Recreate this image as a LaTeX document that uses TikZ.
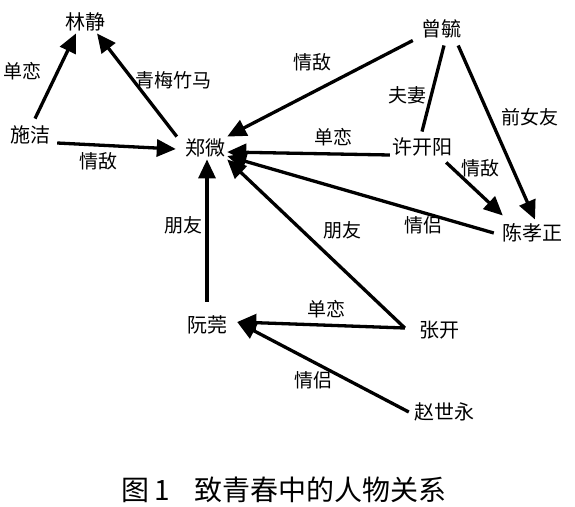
\documentclass[tikz,border=0pt]{standalone}
\usepackage{fontspec}
\usepackage{tikz}
\usetikzlibrary{arrows.meta}
\newfontfamily\cjk{Noto Sans CJK SC}
\tikzset{
  person/.style={inner sep=2pt, font=\cjk\fontsize{20}{20}\selectfont},
  rellabel/.style={inner sep=1pt, font=\cjk\fontsize{19}{19}\selectfont},
  rel/.style={line width=3.3pt, -{Triangle[length=19pt,width=17pt]}},
  tie/.style={line width=3.3pt}
}

\begin{document}
\begin{tikzpicture}[x=1pt,y=-1pt]
		\useasboundingbox (0,0) rectangle (575,506);
		\def\lift{12pt};
		\node[person] (linjing) at (85,22) {林静};
		\node[person] (shijie) at (30,135) {施洁};
		\node[person] (zhengwei) at (205,148) {郑微};
		\node[person] (zengyu) at (441,29) {曾毓};
		\node[person] (xukaiyang) at (422,147) {许开阳};
		\node[person] (chenxiaozheng) at (532,233) {陈孝正};
		\node[person] (ruanwan) at (207,325) {阮莞};
		\node[person] (zhangkai) at (439,330) {张开};
		\node[person] (zhaoshiyong) at (444,412) {赵世永};
		%
		\draw[rel] ([xshift=5pt,yshift=5pt]shijie.north) -- ([xshift=-9pt]linjing.south);
		\draw[rel] ([xshift=-6pt]zhengwei.north west) -- ([xshift=12pt]linjing.south);
		\draw[rel] ([xshift=5pt,yshift=-8pt]shijie.east) -- ([xshift=-7pt,yshift=-1pt]zhengwei.west);
		\draw[rel] ([xshift=-6pt]zengyu.south west) -- (zhengwei.north east);
		\draw[tie] ([xshift=3pt,yshift=-5pt]zengyu.south) -- ([yshift=4pt]xukaiyang.north);
		\draw[rel] ([xshift=-5pt,yshift=-5pt]zengyu.south east) -- ([xshift=3pt,yshift=2pt]chenxiaozheng.north);
		\draw[rel] ([yshift=-8pt]xukaiyang.west) -- ([yshift=-4pt]zhengwei.east);
		\draw[rel] ([xshift=-8pt,yshift=-4pt]xukaiyang.south east) -- ([xshift=3pt,yshift=6pt]chenxiaozheng.north west);
		\draw[rel] ([xshift=-6pt]chenxiaozheng.west) -- (zhengwei.-20);
		\draw[rel] ([xshift=-12pt,yshift=2pt]zhangkai.west) -- (zhengwei.south east);
		\draw[rel] ([yshift=\lift]ruanwan.north) -- (ruanwan.north |- zhengwei.south);
		\draw[rel] ([xshift=-12pt,yshift=2pt]zhangkai.west) -- ([xshift=8pt,yshift=3pt]ruanwan.east);
		\draw[rel] ([xshift=-3pt]zhaoshiyong.west) -- ([xshift=8pt,yshift=3pt]ruanwan.east);
		%
		\node[rellabel] (l-sl) at (22,71) {单恋};
		\node[rellabel] (l-zl) at (173,80) {青梅竹马};
		\node[rellabel] (l-sz) at (98,161) {情敌};
		\node[rellabel] (l-yz) at (312,62) {情敌};
		\node[rellabel] (l-yx) at (407,95) {夫妻};
		\node[rellabel] (l-yc) at (530,117) {前女友};
		\node[rellabel] (l-xz) at (333,137) {单恋};
		\node[rellabel] (l-xc) at (480,168) {情敌};
		\node[rellabel] (l-cz) at (423,225) {情侣};
		\node[rellabel] (l-kz) at (342,230) {朋友};
		\node[rellabel] (l-rz) at (183,225) {朋友};
		\node[rellabel] (l-kr) at (326,309) {单恋};
		\node[rellabel] (l-ar) at (313,380) {情侣};
		%
		\node[font=\cjk\fontsize{28}{28}\selectfont] (caption) at (284,490) {图\,1\enspace\, 致青春中的人物关系};
	\end{tikzpicture}
\end{document}
